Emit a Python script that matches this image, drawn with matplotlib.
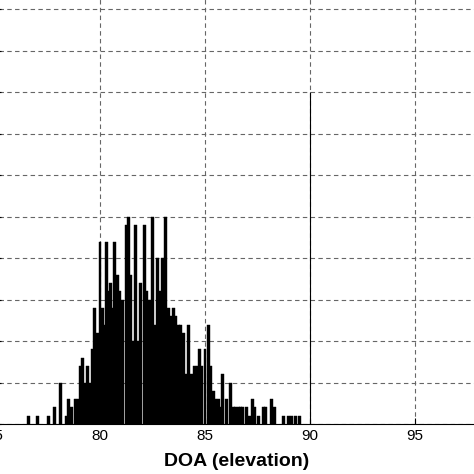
import matplotlib
matplotlib.use("Agg")
import matplotlib.pyplot as plt

doa = [76.59, 77.02, 77.54, 77.83, 78.13, 78.38, 78.52, 78.65, 78.81, 78.92, 79.05, 79.16, 79.29,
       79.41, 79.52, 79.65, 79.76, 79.87, 80.0, 80.1, 80.19, 80.29, 80.4, 80.51, 80.6, 80.71, 80.83,
       80.95, 81.08, 81.24, 81.35, 81.46, 81.59, 81.7, 81.83, 81.95, 82.1, 82.22, 82.35, 82.51, 82.62,
       82.75, 82.86, 82.97, 83.05, 83.14, 83.25, 83.37, 83.49, 83.62, 83.73, 83.84, 83.97, 84.13,
       84.22, 84.37, 84.52, 84.63, 84.76, 84.84, 85.0, 85.16, 85.24, 85.4, 85.48, 85.63, 85.71, 85.84,
       86.03, 86.22, 86.35, 86.46, 86.59, 86.67, 86.78, 86.98, 87.14, 87.25, 87.38, 87.54, 87.78,
       87.89, 88.17, 88.29, 88.73, 88.97, 89.13, 89.29, 89.48]
counts = [1, 1, 1, 2, 5, 1, 3, 2, 3, 3, 7, 8, 5, 7, 5, 9, 14, 11, 22, 14, 12, 22, 16, 17, 14, 22,
          18, 16, 15, 24, 25, 18, 10, 24, 10, 17, 24, 16, 15, 25, 12, 20, 16, 20, 13, 25, 14, 13, 14,
          13, 12, 12, 11, 6, 12, 6, 7, 7, 9, 7, 9, 12, 7, 4, 3, 3, 2, 6, 3, 5, 2, 2, 2, 2, 2, 2, 1, 3,
          2, 1, 2, 2, 3, 2, 1, 1, 1, 1, 1]
spike_x = [90.0]
spike_h = [40]
xticks = [75, 80, 85, 90, 95]

fig = plt.figure(figsize=(4.74, 4.74), dpi=100)
W = 474
ax = fig.add_axes([-5 / W, 50 / W, 483 / W, 456 / W])
ax.bar(doa, counts, width=0.14, color="black", edgecolor="black", linewidth=0.3, zorder=3)
ax.bar(spike_x, spike_h, width=0.04, color="black", edgecolor="black", linewidth=0.8, zorder=3)
ax.set_xlim(75, 98)
ax.set_ylim(0, 55)
ax.set_xticks(xticks)
ax.set_xticklabels([str(t) for t in xticks], fontsize=11, family="Liberation Sans")
ax.set_yticks(range(0, 56, 5))
ax.set_yticklabels([])
ax.grid(True, linestyle=(0, (4, 3)), color="#666666", linewidth=0.8, zorder=0)
ax.tick_params(direction="in", length=4)
ax.set_xlabel("DOA (elevation)", fontsize=14, fontweight="bold", family="Liberation Sans", labelpad=7)
fig.savefig("out.png", dpi=100)
